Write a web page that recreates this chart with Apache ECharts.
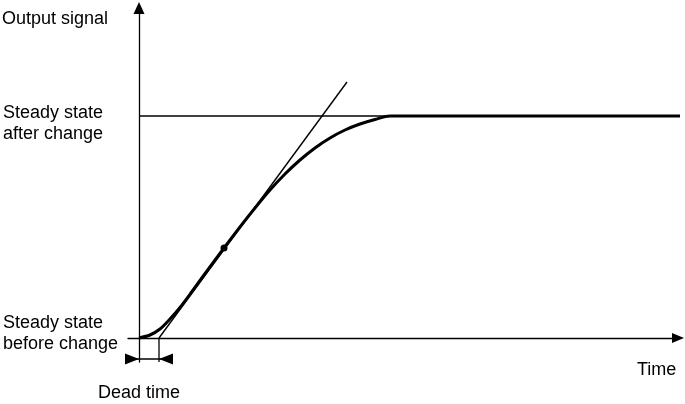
<!DOCTYPE html>
<html>
<head>
<meta charset="utf-8">
<script src="https://cdn.jsdelivr.net/npm/echarts@6/dist/echarts.min.js"></script>
<style>
  html, body { margin: 0; padding: 0; background: #fff; }
  #chart { width: 685px; height: 404px; }
</style>
</head>
<body>
<div id="chart"></div>
<script>
// response curve (time, output), origin = moment of change / steady state before
const responseX = [0, 11, 21, 31, 41, 53, 65, 75, 85, 101, 116, 131, 146, 161, 176, 191, 206, 221, 236, 251, 543]
const responseY = [0, 3, 9, 19, 30.5, 46.5, 63, 76.5, 90, 111, 130, 148, 164, 178, 190, 200, 208, 214, 218.5, 222, 222]
// tangent at inflection point
const tangentX = [20, 208]
const tangentY = [0, 256]
const inflection = [85, 90]
const steadyAfter = 222
const deadTime = 20

var chartDom = document.getElementById('chart')
var myChart = echarts.init(chartDom)

const labelFont = { fontFamily: 'Liberation Sans, Arial, sans-serif', fontSize: 18, fill: '#000' }

const option = {
  animation: false,
  grid: {
    left: 128,
    right: 7,
    top: 8,
    bottom: 42,
  },
  xAxis: {
    type: 'value',
    min: -11,
    max: 539,
    axisLine: {
      onZero: true,
      symbol: ['none', 'triangle'],
      symbolSize: [10, 12],
      lineStyle: { color: '#000', width: 1.3 },
    },
    axisTick: { show: false },
    axisLabel: { show: false },
    splitLine: { show: false },
  },
  yAxis: {
    type: 'value',
    min: -24,
    max: 330,
    axisLine: {
      onZero: true,
      symbol: ['none', 'triangle'],
      symbolSize: [11, 12],
      lineStyle: { color: '#000', width: 1.3 },
    },
    axisTick: { show: false },
    axisLabel: { show: false },
    splitLine: { show: false },
  },
  graphic: [
    { type: 'text', left: 2, top: 10, style: Object.assign({ text: 'Output signal' }, labelFont) },
    { type: 'text', left: 3, top: 103, style: Object.assign({ text: 'Steady state\nafter change', lineHeight: 20.5 }, labelFont) },
    { type: 'text', left: 3, top: 313, style: Object.assign({ text: 'Steady state\nbefore change', lineHeight: 20.5 }, labelFont) },
    { type: 'text', left: 637, top: 361, style: Object.assign({ text: 'Time' }, labelFont) },
    { type: 'text', left: 98, top: 384, style: Object.assign({ text: 'Dead time' }, labelFont) },
  ],
  series: [
    {
      // steady state after change
      type: 'line',
      clip: false,
      data: [[0, steadyAfter], [543, steadyAfter]],
      symbol: 'none',
      lineStyle: { color: '#000', width: 1.5 },
    },
    {
      // tangent
      type: 'line',
      data: tangentX.map((x, i) => [x, tangentY[i]]),
      symbol: 'none',
      lineStyle: { color: '#000', width: 1.4 },
    },
    {
      type: 'line',
      clip: false,
      data: responseX.map((x, i) => [x, responseY[i]]),
      smooth: 0.3,
      symbol: 'none',
      lineStyle: { color: '#000', width: 3 },
    },
    {
      type: 'scatter',
      data: [inflection],
      symbolSize: 7,
      itemStyle: { color: '#000', opacity: 1 },
    },
    {
      // dead time marker
      type: 'line',
      data: [[deadTime, 0], [deadTime, -24]],
      symbol: 'none',
      lineStyle: { color: '#000', width: 1.3 },
    },
    {
      type: 'line',
      clip: false,
      data: [[-16, -21], [deadTime + 13, -21]],
      symbol: 'none',
      lineStyle: { color: '#000', width: 1.3 },
    },
    {
      // arrow heads
      type: 'scatter',
      clip: false,
      symbol: 'triangle',
      symbolSize: [11, 14],
      itemStyle: { color: '#000', opacity: 1 },
      data: [
        { value: [-7, -21], symbolRotate: -90 },
        { value: [deadTime + 7, -21], symbolRotate: 90 },
      ],
    },
  ],
}
option && myChart.setOption(option)
</script>
</body>
</html>
